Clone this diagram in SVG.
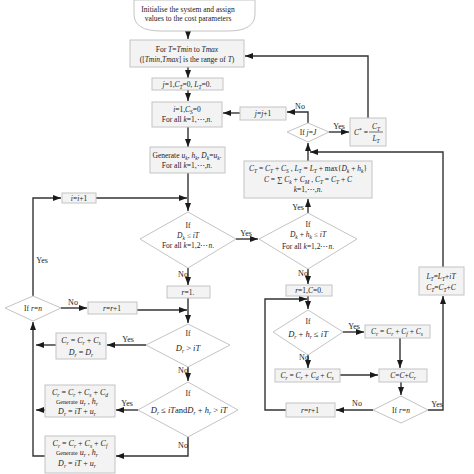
<svg xmlns="http://www.w3.org/2000/svg" width="474" height="474" viewBox="0 0 474 474">
<style>
text{font-family:"Liberation Serif","Times New Roman",serif;font-size:7.5px;fill:#1a1a1a;text-anchor:middle}
.i{font-style:italic}
.s{font-size:5.5px;baseline-shift:-2px}
.b{fill:#f3f3f3;stroke:#c4c4c4;stroke-width:1}
.d{fill:#fff;stroke:#c4c4c4;stroke-width:1}
.c{fill:none;stroke:#333;stroke-width:1.4}
.l{font-size:8px}
</style>
<defs>
<marker id="a" markerWidth="8" markerHeight="6" refX="8" refY="3" orient="auto" markerUnits="userSpaceOnUse">
<path d="M0,0 L8,3 L0,6 z" fill="#1a1a1a"/>
</marker>
</defs>
<rect width="474" height="474" fill="#fff"/>
<g id="connectors" marker-end="url(#a)">
<path class="c" d="M188,31 V39"/>
<path class="c" d="M188,67 V78"/>
<path class="c" d="M188,90 V101"/>
<path class="c" d="M188,127 V147"/>
<path class="c" d="M188,173 V211"/>
<path class="c" d="M236,239 H258"/>
<path class="c" d="M308,213 V199"/>
<path class="c" d="M308,161 V143"/>
<path class="c" d="M308,123 V112 H287"/>
<path class="c" d="M240,113 H223"/>
<path class="c" d="M329,132 H349"/>
<path class="c" d="M368,118 V56 H245"/>
<path class="c" d="M443,267 V152 H310"/>
<path class="c" d="M188,268 V285"/>
<path class="c" d="M188,298 V323"/>
<path class="c" d="M137,310 H187"/>
<path class="c" d="M146,345 H107"/>
<path class="c" d="M56,345 H36"/>
<path class="c" d="M188,367 V381"/>
<path class="c" d="M138,410 H116"/>
<path class="c" d="M45,410 H36"/>
<path class="c" d="M188,437 V456 H116"/>
<path class="c" d="M45,456 H33 V322"/>
<path class="c" d="M61,308 H87"/>
<path class="c" d="M33,296 V198 H61"/>
<path class="c" d="M96,198 H187"/>
<path class="c" d="M308,269 V284"/>
<path class="c" d="M308,296 V309"/>
<path class="c" d="M343,332 H364"/>
<path class="c" d="M308,355 V368"/>
<path class="c" d="M400,338 V368"/>
<path class="c" d="M340,375 H378"/>
<path class="c" d="M401,382 V395"/>
<path class="c" d="M428,410 H443 V296"/>
<path class="c" d="M373,410 H336"/>
<path class="c" d="M286,410 H265 V299 H307"/>
</g>
<g id="labels">
<text class="l" x="246" y="236">Yes</text>
<text class="l" x="298" y="210">Yes</text>
<text class="l" x="300" y="109">No</text>
<text class="l" x="339" y="129">Yes</text>
<text class="l" x="183" y="277">No</text>
<text class="l" x="128" y="342">Yes</text>
<text class="l" x="183" y="373">No</text>
<text class="l" x="127" y="406">Yes</text>
<text class="l" x="183" y="448">No</text>
<text class="l" x="73" y="305">No</text>
<text class="l" x="42" y="263">Yes</text>
<text class="l" x="303" y="276">No</text>
<text class="l" x="354" y="329">Yes</text>
<text class="l" x="304" y="360">No</text>
<text class="l" x="437" y="407">Yes</text>
<text class="l" x="357" y="406">No</text>
</g>
<g id="start">
<path class="d" d="M134,0 H255 V14 Q255,31 228,31 H161 Q134,31 134,14 Z"/>
<text x="188" y="12">Initialise the system and assign</text>
<text x="188" y="21">values to the cost parameters</text>
</g>
<g id="loopT">
<rect class="b" x="130" y="40" width="114" height="27"/>
<text x="187" y="52">For <tspan class="i">T</tspan>=<tspan class="i">Tmin</tspan> to <tspan class="i">Tmax</tspan></text>
<text x="187" y="62">([<tspan class="i">Tmin</tspan>,<tspan class="i">Tmax</tspan>] is the range of <tspan class="i">T</tspan>)</text>
</g>
<g id="initJ">
<rect class="b" x="152" y="78" width="71" height="12"/>
<text x="187" y="87"><tspan class="i">j</tspan>=1,<tspan class="i">C</tspan><tspan class="s i">T</tspan>=0, <tspan class="i">L</tspan><tspan class="s i">T</tspan>=0.</text>
</g>
<g id="initI">
<rect class="b" x="152" y="102" width="70" height="25"/>
<text x="187" y="112"><tspan class="i">i</tspan>=1,<tspan class="i">C</tspan><tspan class="s i">S</tspan>=0</text>
<text x="187" y="122">For all <tspan class="i">k</tspan>=1,⋯,<tspan class="i">n</tspan>.</text>
</g>
<g id="generate">
<rect class="b" x="150" y="147" width="75" height="26"/>
<text x="187" y="158">Generate <tspan class="i">u</tspan><tspan class="s i">k</tspan>, <tspan class="i">h</tspan><tspan class="s i">k</tspan>, <tspan class="i">D</tspan><tspan class="s i">k</tspan>=<tspan class="i">u</tspan><tspan class="s i">k</tspan>.</text>
<text x="187" y="168">For all <tspan class="i">k</tspan>=1,⋯,<tspan class="i">n</tspan>.</text>
</g>
<g id="dec1">
<polygon class="d" points="188,212 236,239 188,268 140,239"/>
<text x="188" y="228">If</text>
<text x="188" y="238"><tspan class="i">D</tspan><tspan class="s i">k</tspan> ≤ <tspan class="i">iT</tspan></text>
<text x="188" y="248">For all <tspan class="i">k</tspan>=1,2⋯<tspan class="i">n</tspan>.</text>
</g>
<g id="dec2">
<polygon class="d" points="308,213 357,239 308,269 259,239"/>
<text x="308" y="227">If</text>
<text x="308" y="237"><tspan class="i">D</tspan><tspan class="s i">k</tspan> + <tspan class="i">h</tspan><tspan class="s i">k</tspan> ≤ <tspan class="i">iT</tspan></text>
<text x="308" y="249">For all <tspan class="i">k</tspan>=1,2⋯<tspan class="i">n</tspan>.</text>
</g>
<g id="costS">
<rect class="b" x="244" y="161" width="128" height="37"/>
<text x="308" y="171"><tspan class="i">C</tspan><tspan class="s i">T</tspan> = <tspan class="i">C</tspan><tspan class="s i">T</tspan> + <tspan class="i">C</tspan><tspan class="s i">S</tspan> , <tspan class="i">L</tspan><tspan class="s i">T</tspan> = <tspan class="i">L</tspan><tspan class="s i">T</tspan> + max{<tspan class="i">D</tspan><tspan class="s i">k</tspan> + <tspan class="i">h</tspan><tspan class="s i">k</tspan>}</text>
<text x="308" y="182"><tspan class="i">C</tspan> = ∑ <tspan class="i">C</tspan><tspan class="s i">k</tspan> + <tspan class="i">C</tspan><tspan class="s i">M</tspan> , <tspan class="i">C</tspan><tspan class="s i">T</tspan> = <tspan class="i">C</tspan><tspan class="s i">T</tspan> + <tspan class="i">C</tspan></text>
<text x="308" y="192"><tspan class="i">k</tspan>=1,⋯,<tspan class="i">n</tspan>.</text>
</g>
<g id="decJ">
<polygon class="d" points="308,123 329,132 308,142 287,132"/>
<text x="308" y="135">If <tspan class="i">j</tspan>=<tspan class="i">J</tspan></text>
</g>
<g id="incJ">
<rect class="b" x="240" y="107" width="46" height="13"/>
<text x="263" y="116"><tspan class="i">j</tspan>=<tspan class="i">j</tspan>+1</text>
</g>
<g id="cstar">
<rect class="b" x="350" y="118" width="36" height="28"/>
<text x="361" y="135"><tspan class="i">C</tspan><tspan style="font-size:5.5px;baseline-shift:3px">*</tspan> =</text>
<text x="376" y="129"><tspan class="i">C</tspan><tspan class="s i">T</tspan></text>
<line x1="369" y1="132" x2="383" y2="132" stroke="#1a1a1a" stroke-width="0.6"/>
<text x="376" y="141"><tspan class="i">L</tspan><tspan class="s i">T</tspan></text>
</g>
<g id="updateLT">
<rect class="b" x="419" y="267" width="45" height="28"/>
<text x="441" y="279"><tspan class="i">L</tspan><tspan class="s i">T</tspan>=<tspan class="i">L</tspan><tspan class="s i">T</tspan>+<tspan class="i">iT</tspan></text>
<text x="441" y="290"><tspan class="i">C</tspan><tspan class="s i">T</tspan>=<tspan class="i">C</tspan><tspan class="s i">T</tspan>+<tspan class="i">C</tspan></text>
</g>
<g id="r1">
<rect class="b" x="167" y="286" width="43" height="12"/>
<text x="188" y="295"><tspan class="i">r</tspan>=1.</text>
</g>
<g id="dec3">
<polygon class="d" points="188,324 230,345 188,367 146,345"/>
<text x="188" y="336">If</text>
<text x="188" y="351" style="font-size:8.5px"><tspan class="i">D</tspan><tspan class="s i">r</tspan> &gt; <tspan class="i">iT</tspan></text>
</g>
<g id="boxCs">
<rect class="b" x="56" y="333" width="50" height="26"/>
<text x="81" y="343" style="font-size:8px"><tspan class="i">C</tspan><tspan class="s i">r</tspan> = <tspan class="i">C</tspan><tspan class="s i">r</tspan> + <tspan class="i">C</tspan><tspan class="s i">s</tspan></text>
<text x="81" y="355" style="font-size:8px"><tspan class="i">D</tspan><tspan class="s i">r</tspan> = <tspan class="i">D</tspan><tspan class="s i">r</tspan></text>
</g>
<g id="dec4">
<polygon class="d" points="188,382 238,410 188,437 138,410"/>
<text x="188" y="396">If</text>
<text x="189" y="413" style="font-size:8.5px"><tspan class="i">D</tspan><tspan class="s i">r</tspan> ≤ <tspan class="i">iT</tspan>and<tspan class="i">D</tspan><tspan class="s i">r</tspan> + <tspan class="i">h</tspan><tspan class="s i">r</tspan> &gt; <tspan class="i">iT</tspan></text>
</g>
<g id="boxCd">
<rect class="b" x="45" y="385" width="70" height="32"/>
<text x="80" y="395" style="font-size:8px"><tspan class="i">C</tspan><tspan class="s i">r</tspan> = <tspan class="i">C</tspan><tspan class="s i">r</tspan> + <tspan class="i">C</tspan><tspan class="s i">s</tspan> + <tspan class="i">C</tspan><tspan class="s i">d</tspan></text>
<text x="77" y="404" style="font-size:8px"><tspan style="font-size:6px">Generate</tspan> <tspan class="i">u</tspan><tspan class="s i">r</tspan> , <tspan class="i">h</tspan><tspan class="s i">r</tspan></text>
<text x="77" y="414" style="font-size:8px"><tspan class="i">D</tspan><tspan class="s i">r</tspan> = <tspan class="i">iT</tspan> + <tspan class="i">u</tspan><tspan class="s i">r</tspan></text>
</g>
<g id="boxCf">
<rect class="b" x="45" y="436" width="70" height="37"/>
<text x="80" y="446" style="font-size:8px"><tspan class="i">C</tspan><tspan class="s i">r</tspan> = <tspan class="i">C</tspan><tspan class="s i">r</tspan> + <tspan class="i">C</tspan><tspan class="s i">s</tspan> + <tspan class="i">C</tspan><tspan class="s i">f</tspan></text>
<text x="77" y="455" style="font-size:8px"><tspan style="font-size:6px">Generate</tspan> <tspan class="i">u</tspan><tspan class="s i">r</tspan> , <tspan class="i">h</tspan><tspan class="s i">r</tspan></text>
<text x="77" y="466" style="font-size:8px"><tspan class="i">D</tspan><tspan class="s i">r</tspan> = <tspan class="i">iT</tspan> + <tspan class="i">u</tspan><tspan class="s i">r</tspan></text>
</g>
<g id="decRnLeft">
<polygon class="d" points="33,296 61,308 33,321 5,308"/>
<text x="33" y="311">If <tspan class="i">r</tspan>=<tspan class="i">n</tspan></text>
</g>
<g id="incRLeft">
<rect class="b" x="88" y="302" width="49" height="12"/>
<text x="112" y="311"><tspan class="i">r</tspan>=<tspan class="i">r</tspan>+1</text>
</g>
<g id="incI">
<rect class="b" x="62" y="193" width="34" height="10"/>
<text x="79" y="201"><tspan class="i">i</tspan>=<tspan class="i">i</tspan>+1</text>
</g>
<g id="r1C0">
<rect class="b" x="286" y="285" width="46" height="11"/>
<text x="309" y="293"><tspan class="i">r</tspan>=1,<tspan class="i">C</tspan>=0.</text>
</g>
<g id="dec5">
<polygon class="d" points="308,310 343,332 308,355 273,332"/>
<text x="308" y="324">If</text>
<text x="308" y="337" style="font-size:8.5px"><tspan class="i">D</tspan><tspan class="s i">r</tspan> + <tspan class="i">h</tspan><tspan class="s i">r</tspan> ≤ <tspan class="i">iT</tspan></text>
</g>
<g id="boxCfs">
<rect class="b" x="365" y="325" width="65" height="13"/>
<text x="397" y="334"><tspan class="i">C</tspan><tspan class="s i">r</tspan> = <tspan class="i">C</tspan><tspan class="s i">r</tspan> + <tspan class="i">C</tspan><tspan class="s i">f</tspan> + <tspan class="i">C</tspan><tspan class="s i">s</tspan></text>
</g>
<g id="boxCds">
<rect class="b" x="275" y="369" width="65" height="13"/>
<text x="307" y="378"><tspan class="i">C</tspan><tspan class="s i">r</tspan> = <tspan class="i">C</tspan><tspan class="s i">r</tspan> + <tspan class="i">C</tspan><tspan class="s i">d</tspan> + <tspan class="i">C</tspan><tspan class="s i">s</tspan></text>
</g>
<g id="sumC">
<rect class="b" x="379" y="369" width="48" height="13"/>
<text x="403" y="378"><tspan class="i">C</tspan>=<tspan class="i">C</tspan>+<tspan class="i">C</tspan><tspan class="s i">r</tspan></text>
</g>
<g id="decRnRight">
<polygon class="d" points="401,396 428,410 401,423 373,410"/>
<text x="401" y="413">If <tspan class="i">r</tspan>=<tspan class="i">n</tspan></text>
</g>
<g id="incRRight">
<rect class="b" x="286" y="403" width="49" height="14"/>
<text x="310" y="413"><tspan class="i">r</tspan>=<tspan class="i">r</tspan>+1</text>
</g>
</svg>
